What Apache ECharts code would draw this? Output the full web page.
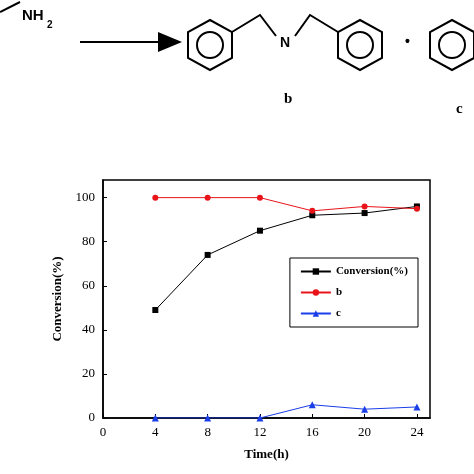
<!DOCTYPE html>
<html>
<head>
<meta charset="utf-8">
<script src="https://cdn.jsdelivr.net/npm/echarts@6/dist/echarts.min.js"></script>
<style>html,body{margin:0;padding:0;background:#fff}</style>
</head>
<body>
<div id="chart" style="width:474px;height:474px"></div>
<script>
// reaction time (h)
const times = [4, 8, 12, 16, 20, 24];
const conversion = [49, 74, 85, 92, 93, 96];
const productB = [100, 100, 100, 94, 96, 95];
const productC = [0, 0, 0, 6, 4, 5];

const pair = (vals) => vals.map((v, i) => [times[i], v]);
const font = 'Liberation Serif';

const myChart = echarts.init(document.getElementById('chart'));
const option = {
  backgroundColor: '#fff',
  animation: false,
  textStyle: { fontFamily: font },
  grid: { left: 103, right: 44, top: 180, bottom: 56, show: true, borderColor: '#000', borderWidth: 1.5 },
  legend: {
    right: 56, top: 258,
    orient: 'vertical',
    itemGap: 10,
    itemWidth: 30, itemHeight: 8,
    backgroundColor: '#fff',
    borderColor: '#000', borderWidth: 1,
    padding: [8, 10, 8, 10],
    textStyle: { fontFamily: font, fontSize: 11, fontWeight: 'bold', color: '#000' },
    data: ['Conversion(%)', 'b', 'c']
  },
  // reaction scheme decoration at the top
  graphic: [
    { type: 'text', left: 22, top: 8, style: { text: 'NH', font: 'bold 15px "Liberation Sans"', fill: '#000' } },
    { type: 'text', left: 47, top: 20, style: { text: '2', font: 'bold 10px "Liberation Sans"', fill: '#000' } },
    { type: 'line', shape: { x1: 0, y1: 12, x2: 20, y2: 2 }, style: { stroke: '#000', lineWidth: 2 } },
    { type: 'line', shape: { x1: 80, y1: 42, x2: 160, y2: 42 }, style: { stroke: '#000', lineWidth: 2 } },
    { type: 'polygon', shape: { points: [[158, 32], [182, 42], [158, 52]] }, style: { fill: '#000' } },
    { type: 'polygon', shape: { points: [[210, 20], [232, 32], [232, 58], [210, 70], [188, 58], [188, 32]] }, style: { fill: 'none', stroke: '#000', lineWidth: 2 } },
    { type: 'circle', shape: { cx: 210, cy: 45, r: 13 }, style: { fill: 'none', stroke: '#000', lineWidth: 2 } },
    { type: 'polyline', shape: { points: [[232, 32], [260, 15], [276, 36]] }, style: { fill: 'none', stroke: '#000', lineWidth: 2 } },
    { type: 'text', left: 280, top: 36, style: { text: 'N', font: 'bold 14px "Liberation Sans"', fill: '#000' } },
    { type: 'polyline', shape: { points: [[295, 36], [310, 15], [338, 32]] }, style: { fill: 'none', stroke: '#000', lineWidth: 2 } },
    { type: 'polygon', shape: { points: [[360, 20], [382, 32], [382, 58], [360, 70], [338, 58], [338, 32]] }, style: { fill: 'none', stroke: '#000', lineWidth: 2 } },
    { type: 'circle', shape: { cx: 360, cy: 45, r: 13 }, style: { fill: 'none', stroke: '#000', lineWidth: 2 } },
    { type: 'text', left: 405, top: 35, style: { text: '•', font: 'bold 14px "Liberation Sans"', fill: '#000' } },
    { type: 'polygon', shape: { points: [[452, 20], [474, 32], [474, 58], [452, 70], [430, 58], [430, 32]] }, style: { fill: 'none', stroke: '#000', lineWidth: 2 } },
    { type: 'circle', shape: { cx: 452, cy: 45, r: 13 }, style: { fill: 'none', stroke: '#000', lineWidth: 2 } },
    { type: 'text', left: 284, top: 92, style: { text: 'b', font: 'bold 15px "Liberation Serif"', fill: '#000' } },
    { type: 'text', left: 456, top: 102, style: { text: 'c', font: 'bold 15px "Liberation Serif"', fill: '#000' } }
  ],
  xAxis: {
    type: 'value', min: 0, max: 25, interval: 4,
    name: 'Time(h)', nameLocation: 'middle', nameGap: 30,
    nameTextStyle: { fontFamily: font, fontSize: 13, fontWeight: 'bold', color: '#000' },
    axisLine: { lineStyle: { color: '#000', width: 1.5 } },
    axisTick: { inside: true, length: 4, lineStyle: { color: '#000' } },
    axisLabel: { color: '#000', fontSize: 13, fontFamily: font, showMaxLabel: false },
    splitLine: { show: false }
  },
  yAxis: {
    type: 'value', min: 0, max: 108, interval: 20,
    name: 'Conversion(%)', nameLocation: 'middle', nameGap: 38,
    nameTextStyle: { fontFamily: font, fontSize: 13, fontWeight: 'bold', color: '#000' },
    axisLine: { show: true, lineStyle: { color: '#000', width: 1.5 } },
    axisTick: { inside: true, length: 4, lineStyle: { color: '#000' } },
    axisLabel: { color: '#000', fontSize: 13, fontFamily: font, showMaxLabel: false },
    splitLine: { show: false }
  },
  series: [
    { name: 'Conversion(%)', type: 'line', data: pair(conversion), symbol: 'rect', symbolSize: 6,
      itemStyle: { color: '#000' }, lineStyle: { color: '#000', width: 1 } },
    { name: 'b', type: 'line', data: pair(productB), symbol: 'circle', symbolSize: 6,
      itemStyle: { color: '#e8141a' }, lineStyle: { color: '#e8141a', width: 1 } },
    { name: 'c', type: 'line', data: pair(productC), symbol: 'triangle', symbolSize: 7,
      itemStyle: { color: '#1a3ee8' }, lineStyle: { color: '#1a3ee8', width: 1 } }
  ]
};
myChart.setOption(option, true);
</script>
</body>
</html>
